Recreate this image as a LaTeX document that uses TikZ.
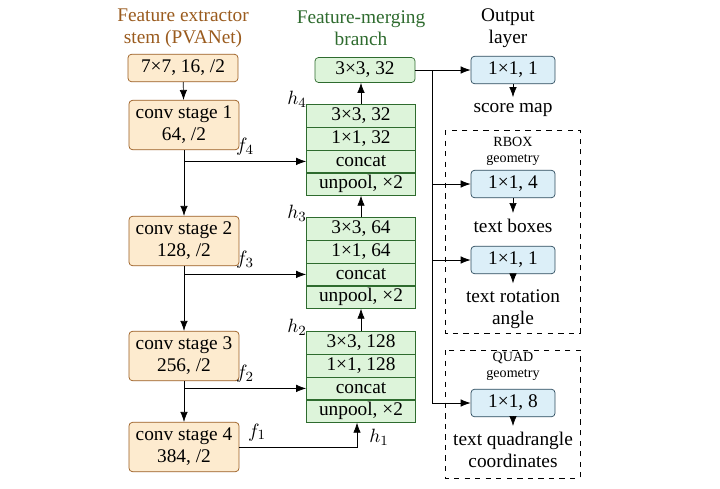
\documentclass[tikz,border=0pt]{standalone}
\usepackage{fontspec}
\setmainfont{Liberation Serif}
\usetikzlibrary{shapes,arrows.meta}
\definecolor{stemline}{HTML}{9A5B1E}
\definecolor{stemfill}{HTML}{FDEBCF}
\definecolor{mergeline}{HTML}{2E6B2E}
\definecolor{mergefill}{HTML}{DDF4DA}
\definecolor{outline}{HTML}{2B4A5C}
\definecolor{outfill}{HTML}{DCEFF8}
\tikzset{
stem/.style={rectangle, draw=stemline, fill=stemfill, text centered, rounded corners=2pt, minimum width=2.2cm},
merge/.style={rectangle, draw=mergeline, fill=mergefill, text centered, minimum width=2.18cm, minimum height=0.45cm, inner sep=0pt},
outbox/.style={rectangle, draw=outline, fill=outfill, text centered, rounded corners=2pt, minimum width=1.68cm, minimum height=0.5cm},
group/.style={draw, dashed},
line/.style={draw, -{Latex[length=2mm]}}
}
\begin{document}
\begin{tikzpicture}[x=0.02cm, y=-0.02cm, font=\fontsize{11}{12.5}\selectfont]
    \useasboundingbox (0,0) rectangle (720,488);
    % Headers
    \node [text=stemline, align=center] at (183,28) {Feature extractor\\stem (PVANet)};
    \node [text=mergeline, align=center] at (361,28) {Feature-merging\\branch};
    \node [align=center] at (508,28) {Output\\layer};
    % Stem nodes
    \node [stem, minimum height=0.48cm] (stem0) at (183,68) {7×7, 16, /2};
    \node [stem, align=center, minimum height=0.92cm] (conv1) at (184,125) {conv stage 1\\64, /2};
    \node [stem, align=center, minimum height=0.92cm] (conv2) at (184,241) {conv stage 2\\128, /2};
    \node [stem, align=center, minimum height=0.92cm] (conv3) at (184,356) {conv stage 3\\256, /2};
    \node [stem, align=center, minimum height=0.92cm] (conv4) at (184,447) {conv stage 4\\384, /2};
    % Merging nodes
    \node [merge, minimum width=2cm, minimum height=0.5cm, rounded corners=2pt] (top) at (365,70) {3×3, 32};
    \foreach \g/\y/\c in {4/116/32, 3/229/64, 2/343/128} {
        \node [merge] (mconv\g) at (361,\y) {3×3, \c};
        \node [merge] (one\g) at (361,\y+22.7) {1×1, \c};
        \node [merge] (cat\g) at (361,\y+45.4) {concat};
        \node [merge] (pool\g) at (361,\y+68.1) {unpool, ×2};
    }
    \node at (297,99) {$h_4$};
    \node at (297,213) {$h_3$};
    \node at (297,327) {$h_2$};
    \node at (379,437) {$h_1$};
    % Output nodes
    \node [outbox] (score) at (513,70) {1×1, 1};
    \node (scoremap) at (513,110) {score map};
    \draw [group] (445,130) rectangle (580,333);
    \node [font=\fontsize{8}{9}\selectfont, align=center] at (513,151) {RBOX\\geometry};
    \node [outbox] (rbox) at (513,184) {1×1, 4};
    \node (boxes) at (513,226) {text boxes};
    \node [outbox] (angle) at (513,260) {1×1, 1};
    \node [align=center] (rot) at (513,309) {text rotation\\angle};
    \draw [group] (445,350) rectangle (580,478);
    \node [font=\fontsize{8}{9}\selectfont, align=center] at (513,366) {QUAD\\geometry};
    \node [outbox] (quad) at (513,403) {1×1, 8};
    \node [align=center] (coords) at (513,450) {text quadrangle\\coordinates};
    % Stem edges
    \path [line] (stem0) -- (conv1);
    \path [line] (conv1) -- (conv2);
    \path [line] (conv2) -- (conv3);
    \path [line] (conv3) -- (conv4);
    \path [line] (cat4.west -| conv1) -- (cat4.west) node [pos=0.5, above] {$f_4$};
    \path [line] (cat3.west -| conv1) -- (cat3.west) node [pos=0.5, above] {$f_3$};
    \path [line] (cat2.west -| conv1) -- (cat2.west) node [pos=0.5, above] {$f_2$};
    \coordinate (h1) at (357,447);
    \path [line] (conv4.east) -- (h1) node [pos=0.15, above] {$f_1$} -- (h1 |- pool2.south);
    % Merging edges
    \path [line] (mconv3.north) -- (pool4.south);
    \path [line] (mconv2.north) -- (pool3.south);
    \path [line] (mconv4.north) -- (mconv4.north |- top.south);
    % Output edges
    \path [line] (top) -- (score);
    \path [line] (score) -- (scoremap);
    \path [line] (rbox) -- (boxes);
    \path [line] (angle) -- (rot);
    \path [line] (quad) -- (coords);
    \coordinate (split) at (432,70);
    \draw (split) -- (split |- quad);
    \path [line] (split |- rbox) -- (rbox);
    \path [line] (split |- angle) -- (angle);
    \path [line] (split |- quad) -- (quad);
\end{tikzpicture}
\end{document}
